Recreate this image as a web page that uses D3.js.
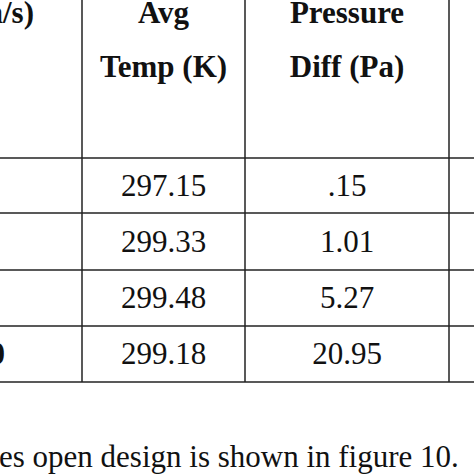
<!DOCTYPE html>
<html>
<head>
<meta charset="UTF-8">
<style>
  body { margin: 0; background: #fff; }
  svg text { font-family: "Liberation Serif", "Times New Roman", serif; fill: #111; }
</style>
</head>
<body>
<svg id="chart" width="474" height="474"></svg>
<script src="https://d3js.org/d3.v7.min.js"></script>
<script>
// Table content (cropped view)
const headers = [["(m/s)"], ["Avg", "Temp (K)"], ["Pressure", "Diff (Pa)"]];
const avgTemp = ["297.15", "299.33", "299.48", "299.18"];
const pressureDiff = [".15", "1.01", "5.27", "20.95"];
const leftCol = ["", "", "", "0"];
const caption = "es open design is shown in figure 10.";

const svg = d3.select('#chart');
const colEdges = [-120, 82, 245, 449, 600];
const rowEdges = [-10, 158, 213, 270, 326, 382];
const fs = 31;

// grid lines
const lineColor = '#222';
colEdges.forEach(x => {
    svg.append('line').attr('x1', x).attr('x2', x)
        .attr('y1', rowEdges[0]).attr('y2', rowEdges[rowEdges.length - 1])
        .attr('stroke', lineColor).attr('stroke-width', 1.5);
});
rowEdges.slice(1).forEach(y => {
    svg.append('line').attr('x1', 0).attr('x2', 474)
        .attr('y1', y).attr('y2', y)
        .attr('stroke', lineColor).attr('stroke-width', 1.5);
});

// header
const cx = i => (colEdges[i] + colEdges[i + 1]) / 2;
svg.append('text').attr('x', 34).attr('y', 23).attr('text-anchor', 'end')
    .attr('font-size', fs).attr('font-weight', 'bold').text(headers[0][0]);
[1, 2].forEach(i => {
    headers[i].forEach((t, j) => {
        svg.append('text').attr('x', cx(i)).attr('y', 23 + j * 54)
            .attr('text-anchor', 'middle').attr('font-size', fs)
            .attr('font-weight', 'bold').text(t);
    });
});

// data rows
const rowMid = i => (rowEdges[i + 1] + rowEdges[i + 2]) / 2;
avgTemp.forEach((v, i) => {
    svg.append('text').attr('x', cx(1)).attr('y', rowMid(i) + 10)
        .attr('text-anchor', 'middle').attr('font-size', fs).text(v);
    svg.append('text').attr('x', cx(2)).attr('y', rowMid(i) + 10)
        .attr('text-anchor', 'middle').attr('font-size', fs).text(pressureDiff[i]);
    if (leftCol[i]) {
        svg.append('text').attr('x', 5).attr('y', rowMid(i) + 10)
            .attr('text-anchor', 'end').attr('font-size', fs)
            .attr('font-weight', 'bold').text(leftCol[i]);
    }
});

// caption fragment
svg.append('text').attr('x', -1).attr('y', 467).attr('font-size', fs).text(caption);
</script>
</body>
</html>
